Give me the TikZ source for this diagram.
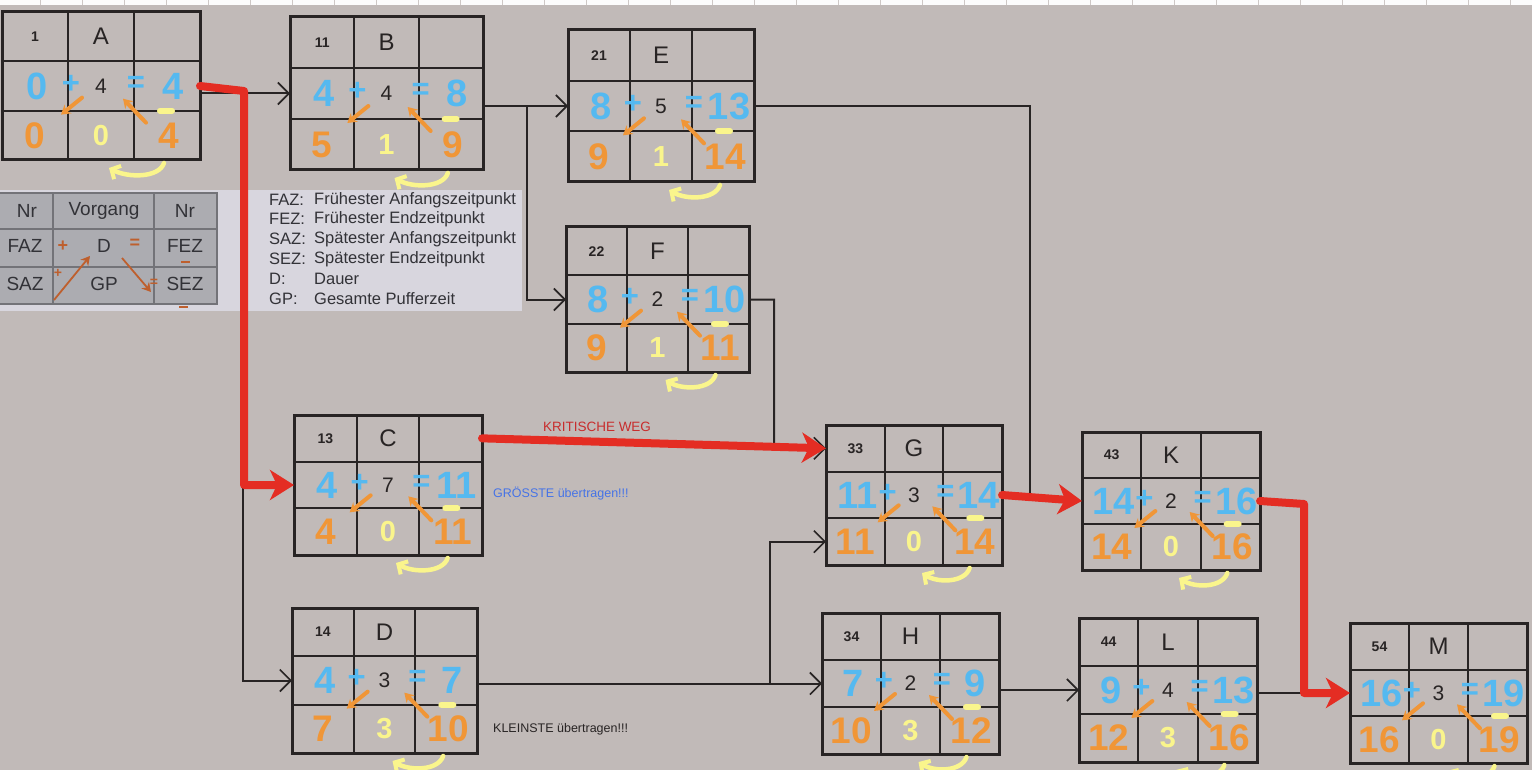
\documentclass[tikz,border=0pt]{standalone}
\usepackage{fontspec}
\setmainfont{Liberation Sans}
\usetikzlibrary{arrows.meta,calc}
\definecolor{bg}{RGB}{193,186,184}
\definecolor{ink}{RGB}{40,36,36}
\definecolor{hblue}{RGB}{85,185,240}
\definecolor{horange}{RGB}{240,150,55}
\definecolor{hyellow}{RGB}{250,245,140}
\definecolor{hred}{RGB}{228,45,35}
\definecolor{lgcell}{RGB}{172,172,177}
\definecolor{lgline}{RGB}{115,115,120}
\definecolor{lgback}{RGB}{216,214,222}
\definecolor{lgtext}{RGB}{50,50,55}
\definecolor{txtred}{RGB}{200,45,45}
\definecolor{txtblue}{RGB}{70,115,230}
\definecolor{lgorange}{RGB}{190,95,45}
\tikzset{
  boxframe/.style={draw=ink, line width=3pt, inner sep=0pt, outer sep=0pt},
  gridline/.style={draw=ink, line width=2.2pt},
  conn/.style={draw=ink, line width=2pt, -{Straight Barb[length=11pt,width=22pt,line width=1.6pt]}},
  plainconn/.style={draw=ink, line width=2pt},
  crit/.style={draw=hred, line width=8pt, line join=round, line cap=round},
  critarrow/.style={crit, -{Stealth[length=24pt,width=30pt,inset=7pt]}},
  nrtext/.style={font=\fontsize{14}{14}\selectfont\bfseries, text=ink},
  lettertext/.style={font=\fontsize{24}{24}\selectfont, text=ink},
  dtext/.style={font=\fontsize{21}{21}\selectfont, text=ink},
  bluenum/.style={font=\fontsize{38}{38}\selectfont\bfseries, text=hblue, inner sep=0pt},
  bluesign/.style={font=\fontsize{31}{31}\selectfont\bfseries, text=hblue, inner sep=0pt},
  orangenum/.style={font=\fontsize{37}{37}\selectfont\bfseries, text=horange, inner sep=0pt},
  yellownum/.style={font=\fontsize{29}{29}\selectfont\bfseries, text=hyellow, inner sep=0pt},
  orangearrow/.style={draw=horange, line width=4pt, line cap=round, -{Stealth[length=9pt,width=11pt]}},
  yellowdash/.style={draw=hyellow, line width=6pt, line cap=round},
  yellowarrow/.style={draw=hyellow, line width=4.5pt, line cap=round, -{Straight Barb[length=7pt,width=15pt,line width=4pt]}},
  lgcelltext/.style={font=\fontsize{19}{19}\selectfont, text=lgtext},
  lgdef/.style={font=\fontsize{16.5}{16.5}\selectfont, text=lgtext, anchor=west, inner sep=0pt},
  lgmark/.style={font=\fontsize{18}{18}\selectfont\bfseries, text=lgorange, inner sep=0pt},
  lgarrow/.style={draw=lgorange, line width=1.8pt, -{Stealth[length=9pt,width=10pt]}},
  note/.style={font=\fontsize{12.5}{12.5}\selectfont, inner sep=0pt},
}
% name, left, top, width, height, nr, letter
\newcommand\netbox[7]{%
  \node[boxframe, minimum width=#4pt, minimum height=#5pt, anchor=north west] (#1) at (#2,#3) {};
  \draw[gridline] ({#2+#4/3},#3) -- ({#2+#4/3},{#3+#5});
  \draw[gridline] ({#2+2*#4/3},#3) -- ({#2+2*#4/3},{#3+#5});
  \draw[gridline] (#2,{#3+#5/3}) -- ({#2+#4},{#3+#5/3});
  \draw[gridline] (#2,{#3+2*#5/3}) -- ({#2+#4},{#3+2*#5/3});
  \foreach \ii in {0,1,2}{\foreach \jj in {0,1,2}{%
    \coordinate (#1-\ii\jj) at ({#2+(\jj+0.5)*#4/3},{#3+(\ii+0.5)*#5/3});}}
  \coordinate (#1-pl) at ({#2+#4/3},{#3+#5/2});
  \coordinate (#1-eq) at ({#2+2*#4/3},{#3+#5/2});
  \coordinate (#1-k1) at ({#2+#4/3},{#3+2*#5/3});
  \coordinate (#1-k2) at ({#2+2*#4/3},{#3+2*#5/3});
  \coordinate (#1-s1) at ({#2+#4/2},{#3+#5});
  \coordinate (#1-s2) at ({#2+5*#4/6},{#3+#5});
  \coordinate (#1-sb) at ({#2+2*#4/3},{#3+#5});
  \coordinate (#1-te) at ({#2+#4},{#3+#5/6});
  \coordinate (#1-tw) at (#2,{#3+#5/6});
  \coordinate (#1-bw) at (#2,{#3+5*#5/6});
  \node[nrtext] (#1-nr) at (#1-00) {#6};
  \node[lettertext] (#1-name) at (#1-01) {#7};
}
% name, faz, d, fez, saz, gp, sez
\newcommand\netvals[7]{%
  \node[bluenum] (#1-faz) at ([xshift=2pt]#1-10) {#2};
  \node[bluesign] (#1-plus) at ([xshift=3pt,yshift=2pt]#1-pl) {+};
  \node[dtext] (#1-d) at (#1-11) {#3};
  \node[bluesign] (#1-eqs) at ([xshift=2pt,yshift=2pt]#1-eq) {=};
  \node[bluenum] (#1-fez) at ([xshift=6pt]#1-12) {#4};
  \node[orangenum] (#1-saz) at (#1-20) {#5};
  \node[yellownum] (#1-gp) at (#1-21) {#6};
  \node[orangenum] (#1-sez) at ([xshift=2pt]#1-22) {#7};
  \draw[orangearrow] ([xshift=14pt,yshift=13pt]#1-k1) -- ([xshift=-7pt,yshift=-4pt]#1-k1);
  \draw[orangearrow] ([xshift=12pt,yshift=-12pt]#1-k2) -- ([xshift=-11pt,yshift=12pt]#1-k2);
  \draw[yellowdash] ([xshift=26pt]#1-k2) -- ([xshift=38pt]#1-k2);
  \draw[yellowarrow] ([xshift=-3pt,yshift=-3pt]#1-s2) .. controls ([xshift=-8pt,yshift=-18pt]#1-s2) and ([xshift=-6pt,yshift=-18pt]#1-sb) .. ([xshift=8pt,yshift=-8pt]#1-s1);
}
\begin{document}
\begin{tikzpicture}[x=1pt,y=-1pt]
\useasboundingbox (0,0) rectangle (1532,770);
\fill[bg] (0,0) rectangle (1532,770);
\fill[white!96!bg] (0,0) rectangle (1532,5);
\foreach \xx in {40,82,...,1530}{\draw[bg!80!white, line width=0.6pt] (\xx,0) -- (\xx,5);}

% ---------------- legend ----------------
\fill[lgback] (0,190) rectangle (522,311);
\fill[lgcell] (0,193) rectangle (217,304);
\draw[lgline, line width=1.3pt] (0,193) -- (217,193) -- (217,304) -- (0,304);
\draw[lgline, line width=1.3pt] (53,193) -- (53,304) (154,193) -- (154,304)
  (0,229) -- (217,229) (0,267) -- (217,267);
\node[lgcelltext] (lg11) at (27,211) {Nr};
\node[lgcelltext] (lg12) at (104,211) {Vorgang};
\node[lgcelltext] (lg13) at (185,211) {Nr};
\node[lgcelltext] (lg21) at (25,246) {FAZ};
\node[lgcelltext] (lg22) at (104,246) {D};
\node[lgcelltext] (lg23) at (185,246) {FEZ};
\node[lgcelltext] (lg31) at (25,284) {SAZ};
\node[lgcelltext] (lg32) at (104,284) {GP};
\node[lgcelltext] (lg33) at (185,284) {SEZ};
\node[lgmark] (lgp1) at (63,246) {+};
\node[lgmark] (lge1) at (135,244) {=};
\node[lgmark, font=\fontsize{14}{14}\selectfont\bfseries] (lgp2) at (58,273) {+};
\node[lgmark, font=\fontsize{14}{14}\selectfont\bfseries] (lge2) at (154,283) {=};
\draw[lgorange, line width=2.2pt] (181,262) -- (190,262);
\draw[lgorange, line width=2.2pt] (179,307) -- (188,307);
\draw[lgarrow] (54,300) -- (90,256);
\draw[lgarrow] (122,258) -- (151,292);
\node[lgdef] (f1a) at (269,200) {FAZ:};
\node[lgdef] (f1b) at (314,200) {Frühester Anfangszeitpunkt};
\node[lgdef] (f2a) at (269,219) {FEZ:};
\node[lgdef] (f2b) at (314,219) {Frühester Endzeitpunkt};
\node[lgdef] (f3a) at (269,239) {SAZ:};
\node[lgdef] (f3b) at (314,239) {Spätester Anfangszeitpunkt};
\node[lgdef] (f4a) at (269,259) {SEZ:};
\node[lgdef] (f4b) at (314,259) {Spätester Endzeitpunkt};
\node[lgdef] (f5a) at (269,279) {D:};
\node[lgdef] (f5b) at (314,279) {Dauer};
\node[lgdef] (f6a) at (269,299) {GP:};
\node[lgdef] (f6b) at (314,299) {Gesamte Pufferzeit};

% ---------------- boxes ----------------
\netbox{A}{2}{12}{198}{148}{1}{A}
\netbox{B}{290}{17}{193}{153}{11}{B}
\netbox{E}{568}{30}{186}{152}{21}{E}
\netbox{F}{566}{227}{183}{145}{22}{F}
\netbox{C}{294}{415}{188}{140}{13}{C}
\netbox{D}{292}{608}{185}{145}{14}{D}
\netbox{G}{826}{425}{176}{140}{33}{G}
\netbox{K}{1082}{432}{178}{138}{43}{K}
\netbox{H}{822}{613}{177}{141}{34}{H}
\netbox{L}{1079}{618}{178}{144}{44}{L}
\netbox{M}{1350}{623}{177}{140}{54}{M}

% ---------------- connectors ----------------
\coordinate (jA) at (243,93.5);
\coordinate (jB) at (527,106);
\coordinate (jFG) at (774,448.3);
\coordinate (jEK) at (1030,498);
\coordinate (jDG) at (770,683.5);
\draw[conn] (A.east |- B.west) -- (B.west);
\draw[conn] (jA) |- (D.west);
\draw[conn] (B.east |- E.west) -- (E.west);
\draw[conn] (jB) |- (F.west);
\draw[plainconn] (E.east) -| (jEK);
\draw[conn] (F.east) -| (jFG) -- (G-tw);
\draw[conn] (D.east |- H.west) -- (H.west);
\draw[conn] (jDG) |- (G-bw);
\draw[conn] (H.east |- L.west) -- (L.west);
\draw[plainconn] (L.east |- M.west) -- (M.west);

% ---------------- handwritten values ----------------
\netvals{A}{0}{4}{4}{0}{0}{4}
\netvals{B}{4}{4}{8}{5}{1}{9}
\netvals{E}{8}{5}{13}{9}{1}{14}
\netvals{F}{8}{2}{10}{9}{1}{11}
\netvals{C}{4}{7}{11}{4}{0}{11}
\netvals{D}{4}{3}{7}{7}{3}{10}
\netvals{G}{11}{3}{14}{11}{0}{14}
\netvals{H}{7}{2}{9}{10}{3}{12}
\netvals{K}{14}{2}{16}{14}{0}{16}
\netvals{L}{9}{4}{13}{12}{3}{16}
\netvals{M}{16}{3}{19}{16}{0}{19}

% ---------------- critical path ----------------
\coordinate (rA) at (244,91);
\coordinate (rK) at (1304,504);
\draw[critarrow] (A.east) -- (rA) |- (C.west);
\draw[critarrow] (C-te) -- (G-tw);
\draw[critarrow] (G.east) -- (K.west);
\draw[critarrow] (K.east) -- (rK) |- (M.west);

% ---------------- notes ----------------
\node[note, text=txtred, font=\fontsize{13.5}{13.5}\selectfont] (kw) at (597,427) {KRITISCHE WEG};
\node[note, text=txtblue, anchor=west] (gr) at (493,494) {GRÖSSTE übertragen!!!};
\node[note, text=ink, anchor=west] (kl) at (493,729) {KLEINSTE übertragen!!!};
\end{tikzpicture}
\end{document}
